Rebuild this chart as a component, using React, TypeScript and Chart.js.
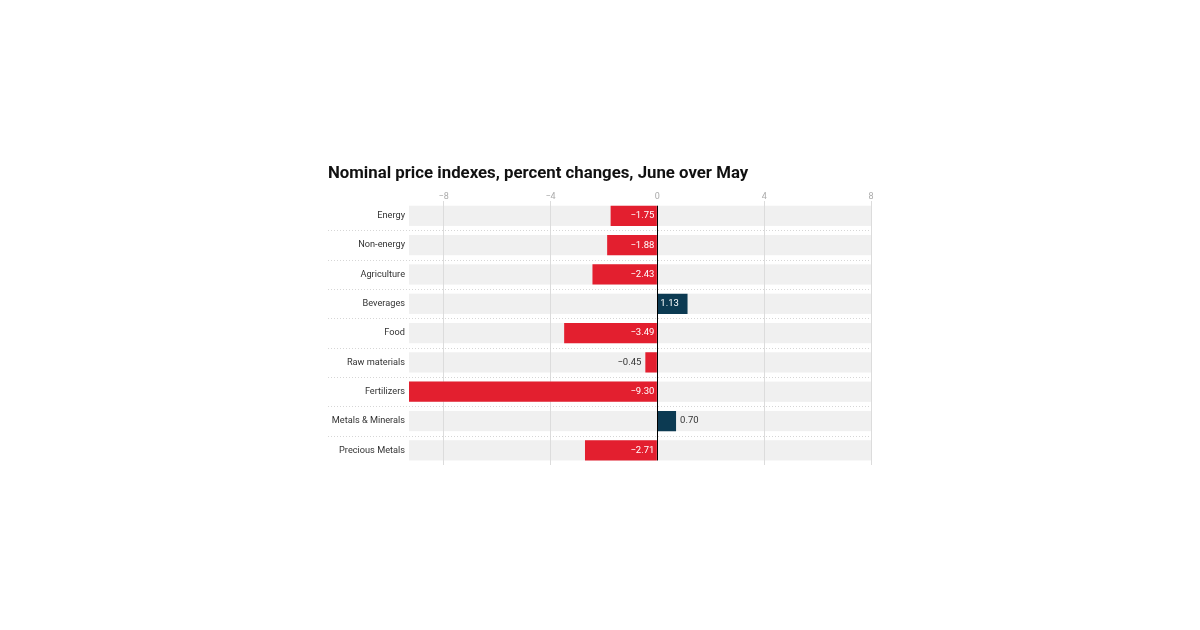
import React, { useEffect, useRef } from "react";
import { Chart, registerables } from "chart.js";

Chart.register(...registerables);

const categories = [
  "Energy",
  "Non-energy",
  "Agriculture",
  "Beverages",
  "Food",
  "Raw materials",
  "Fertilizers",
  "Metals & Minerals",
  "Precious Metals",
];
const values = [-1.75, -1.88, -2.43, 1.13, -3.49, -0.45, -9.3, 0.7, -2.71];
const xTicks = [-8, -4, 0, 4, 8];
const xMin = -9.3;
const xMax = 8;
const titleText = "Nominal price indexes, percent changes, June over May";

const RED = "#e31f2f";
const NAVY = "#0c3a52";
const FONT = "Roboto, 'Noto Sans', sans-serif";

const fmt = (v: number) => {
  const s = Math.abs(v).toFixed(2);
  return v < 0 ? "\u2212" + s : s;
};

const decorPlugin = {
  id: "decor",
  beforeDraw(chart: any) {
    const { ctx, chartArea } = chart;
    const meta = chart.getDatasetMeta(0);
    ctx.save();
    ctx.fillStyle = "#f0f0f0";
    meta.data.forEach((bar: any) => {
      const h = bar.height;
      ctx.fillRect(chartArea.left, bar.y - h / 2, chartArea.right - chartArea.left, h);
    });
    ctx.restore();
  },
  afterDatasetsDraw(chart: any) {
    const { ctx, chartArea, scales } = chart;
    const meta = chart.getDatasetMeta(0);
    const bars = meta.data;
    const x0 = scales.x.getPixelForValue(0);
    ctx.save();
    // dotted separators
    ctx.strokeStyle = "#d6d6d6";
    ctx.lineWidth = 1;
    ctx.setLineDash([1, 2]);
    for (let i = 0; i < bars.length - 1; i++) {
      const y = Math.round((bars[i].y + bars[i + 1].y) / 2) + 0.5;
      ctx.beginPath();
      ctx.moveTo(328, y);
      ctx.lineTo(chartArea.right, y);
      ctx.stroke();
    }
    ctx.setLineDash([]);
    // zero line
    const first = bars[0];
    const last = bars[bars.length - 1];
    ctx.strokeStyle = "#000";
    ctx.lineWidth = 1;
    ctx.beginPath();
    ctx.moveTo(Math.round(x0) + 0.5, first.y - first.height / 2);
    ctx.lineTo(Math.round(x0) + 0.5, last.y + last.height / 2);
    ctx.stroke();
    // value labels
    ctx.font = `9.5px ${FONT}`;
    ctx.textBaseline = "middle";
    bars.forEach((bar: any, i: number) => {
      const v = values[i];
      const txt = fmt(v);
      const tw = ctx.measureText(txt).width;
      const bw = Math.abs(bar.x - bar.base);
      const inside = bw > tw + 6;
      if (v < 0) {
        ctx.textAlign = "right";
        if (inside) {
          ctx.fillStyle = "#fff";
          ctx.fillText(txt, x0 - 3, bar.y);
        } else {
          ctx.fillStyle = "#333";
          ctx.fillText(txt, bar.x - 4, bar.y);
        }
      } else {
        ctx.textAlign = "left";
        if (inside) {
          ctx.fillStyle = "#fff";
          ctx.fillText(txt, x0 + 3, bar.y);
        } else {
          ctx.fillStyle = "#333";
          ctx.fillText(txt, bar.x + 4, bar.y);
        }
      }
    });
    ctx.restore();
  },
};

export default function App() {
  const ref = useRef<HTMLCanvasElement>(null);
  useEffect(() => {
    if (!ref.current) return;
    const chart = new Chart(ref.current, {
      type: "bar",
      data: {
        labels: categories,
        datasets: [
          {
            data: values,
            backgroundColor: values.map((v) => (v < 0 ? RED : NAVY)),
            borderWidth: 0,
            barPercentage: 0.69,
            categoryPercentage: 1,
          },
        ],
      },
      options: {
        indexAxis: "y",
        animation: false,
        responsive: true,
        maintainAspectRatio: false,
        layout: { padding: { left: 328, right: 329, top: 164, bottom: 165 } },
        plugins: {
          legend: { display: false },
          tooltip: { enabled: false },
          title: {
            display: true,
            text: titleText,
            align: "start",
            color: "#111",
            font: { family: FONT, size: 16.8, weight: "bold", lineHeight: 1.2 },
            padding: { top: 0, bottom: 3 },
          },
        },
        scales: {
          x: {
            type: "linear",
            position: "top",
            min: xMin,
            max: xMax,
            afterBuildTicks: (scale: any) => {
              scale.ticks = xTicks.map((v) => ({ value: v }));
            },
            afterFit: (scale: any) => {
              scale.height = 14;
            },
            border: { display: false },
            grid: {
              drawTicks: false,
              color: (c: any) => (c.tick && c.tick.value === 0 ? "rgba(0,0,0,0)" : "#dcdcdc"),
              lineWidth: 1,
            },
            ticks: {
              padding: -1,
              color: "#aaa",
              font: { family: FONT, size: 9 },
              callback: (v: any) => fmt(Number(v)).replace(".00", ""),
            },
          },
          y: {
            afterFit: (scale: any) => {
              scale.width = 81;
            },
            border: { display: false },
            grid: { display: false, drawTicks: false },
            ticks: {
              padding: 4,
              color: "#333",
              font: { family: FONT, size: 9.2 },
            },
          },
        },
      },
      plugins: [decorPlugin],
    } as any);
    return () => chart.destroy();
  }, []);
  return (
    <div style={{ position: "fixed", left: 0, top: 0, width: 1200, height: 630, background: "#fff" }}>
      <canvas ref={ref} />
    </div>
  );
}
